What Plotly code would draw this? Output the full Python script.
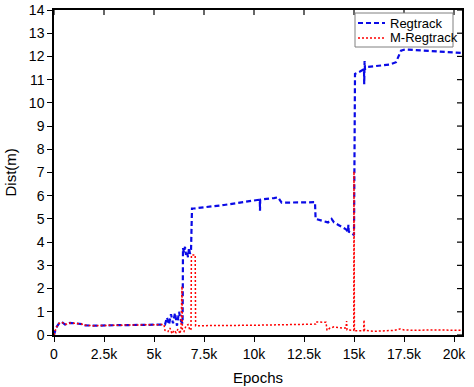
import plotly.graph_objects as go

# Regtrack (blue dashed)
reg_epochs = [0, 100, 250, 400, 550, 800, 1100, 1400, 1500, 2000, 3000, 4000, 5000, 5500,
              5550, 5650, 5750, 5850, 5950, 6050, 6150, 6250, 6350, 6430, 6450, 6500, 6550,
              6600, 6650, 6700, 6750, 6800, 6850, 6900, 7000, 8500, 10000, 10290, 10300, 10310,
              11000, 11200, 11380, 12000, 13050, 13080, 13300, 13500, 13700, 13880, 14000, 14200,
              14400, 14600, 14700, 14720, 14740, 14900, 15000, 15050, 15300, 15500, 15510,
              15530, 15550, 15700, 16200, 16800, 17100, 17350, 17550, 18500, 19500, 20400]
reg_vals = [0.0, 0.3, 0.5, 0.55, 0.45, 0.52, 0.5, 0.47, 0.42, 0.4, 0.42, 0.43, 0.45, 0.45,
            0.45, 0.75, 0.45, 0.9, 0.5, 0.95, 0.4, 1.0, 0.6, 0.5, 3.75, 3.55, 3.8, 3.45, 3.6,
            3.35, 3.75, 3.5, 3.6, 5.45, 5.45, 5.6, 5.78, 5.83, 5.35, 5.83,
            5.9, 5.93, 5.7, 5.7, 5.72, 5.0, 4.95, 4.88, 4.85, 5.0, 4.85, 4.75,
            4.65, 4.55, 4.45, 4.75, 4.45, 4.4, 4.3, 11.25, 11.35, 11.45, 10.8,
            11.8, 11.45, 11.55, 11.6, 11.65, 11.75, 12.25, 12.3, 12.25, 12.2, 12.15]

# M-Regtrack (red dotted)
mreg_epochs = [0, 100, 250, 400, 550, 800, 1100, 1400, 1500, 2000, 3000, 4000, 5000, 5500,
               5550, 5700, 5800, 5900, 6000, 6100, 6200, 6300, 6350, 6400, 6420, 6500, 6600,
               6700, 6800, 6850, 6870, 7060, 7080, 8000, 10000, 12000, 13080, 13100, 13600,
               13650, 13800, 14000, 14200, 14400, 14600, 14630, 14650, 14900, 14990, 15000,
               15020, 15300, 15480, 15500, 15530, 16000, 17000, 17300, 17500, 18000, 19000, 20400]
mreg_vals = [0.0, 0.3, 0.5, 0.55, 0.45, 0.52, 0.5, 0.47, 0.42, 0.4, 0.42, 0.43, 0.45, 0.45,
             0.2, 0.15, 0.3, 0.05, 0.2, 0.1, 0.25, 0.05, 0.3, 2.1, 0.2, 0.15, 0.4,
             0.45, 0.2, 0.25, 3.45, 3.45, 0.4, 0.4, 0.42, 0.45, 0.47, 0.56, 0.55,
             0.2, 0.3, 0.35, 0.32, 0.3, 0.3, 0.6, 0.22, 0.22, 0.2, 7.05,
             0.18, 0.18, 0.18, 0.65, 0.2, 0.16, 0.2, 0.26, 0.22, 0.2, 0.22, 0.2]

series_names = ["Regtrack", "M-Regtrack"]
series_colors = ["#0a0ae6", "#ff0000"]
series_dash = ["5px,3px", "2px,2px"]
series_width = [2.2, 1.5]

x_tick_step = 2500
y_tick_step = 1
x_range = [0, 20400]
y_range = [0, 14]

font_family = "Liberation Sans"
W, H = 474, 387
M = dict(l=54, r=12, t=10, b=52)
plot_w = W - M["l"] - M["r"]
plot_h = H - M["t"] - M["b"]
tick_len = 5

fig = go.Figure()
fig.add_trace(go.Scatter(x=reg_epochs, y=reg_vals, mode="lines", name=series_names[0],
                         line=dict(color=series_colors[0], width=series_width[0],
                                   dash=series_dash[0])))
fig.add_trace(go.Scatter(x=mreg_epochs, y=mreg_vals, mode="lines", name=series_names[1],
                         line=dict(color=series_colors[1], width=series_width[1],
                                   dash=series_dash[1])))

# inward ticks on the top and right edges, at the axis tick positions
xv = x_range[0]
while xv <= x_range[1]:
    fig.add_shape(type="line", xref="x", yref="paper", x0=xv, x1=xv,
                  y0=1, y1=1 - tick_len / plot_h, line=dict(color="black", width=1.2))
    xv += x_tick_step
yv = y_range[0]
while yv <= y_range[1]:
    fig.add_shape(type="line", xref="paper", yref="y", x0=1, x1=1 - tick_len / plot_w,
                  y0=yv, y1=yv, line=dict(color="black", width=1.2))
    yv += y_tick_step

# legend box (drawn by hand so it matches the compact original)
lg_x0, lg_x1 = (355 - M["l"]) / plot_w, (453 - M["l"]) / plot_w
lg_y1, lg_y0 = 1 - (13 - M["t"]) / plot_h, 1 - (47 - M["t"]) / plot_h
fig.add_shape(type="rect", xref="paper", yref="paper", x0=lg_x0, x1=lg_x1, y0=lg_y0, y1=lg_y1,
              line=dict(color="#808080", width=1), fillcolor="white", layer="above")
for i, name in enumerate(series_names):
    ypos = 1 - (23 + 15 * i - M["t"]) / plot_h
    fig.add_shape(type="line", xref="paper", yref="paper",
                  x0=(358 - M["l"]) / plot_w, x1=(385 - M["l"]) / plot_w, y0=ypos, y1=ypos,
                  line=dict(color=series_colors[i], width=series_width[i], dash=series_dash[i]),
                  layer="above")
    fig.add_annotation(x=(388 - M["l"]) / plot_w, y=ypos, xref="paper", yref="paper",
                       text=name, showarrow=False, xanchor="left", yanchor="middle",
                       font=dict(family=font_family, size=13, color="black"))

# axis titles
fig.add_annotation(x=0.5, y=0, xref="paper", yref="paper", yshift=-42, text="Epochs",
                   showarrow=False, xanchor="center", yanchor="middle",
                   font=dict(family=font_family, size=15, color="black"))
fig.add_annotation(x=0, y=0.5, xref="paper", yref="paper", xshift=-44, text="Dist(m)",
                   textangle=-90, showarrow=False, xanchor="center", yanchor="middle",
                   font=dict(family=font_family, size=15, color="black"))

axis_common = dict(showline=True, mirror=True, linecolor="black", linewidth=1.5,
                   ticks="outside", ticklen=tick_len, tickcolor="black", tickwidth=1.2,
                   gridcolor="white", zerolinecolor="black", zerolinewidth=1.5,
                   automargin=False, ticklabeloverflow="allow",
                   tickfont=dict(family=font_family, size=14, color="black"))

fig.update_layout(
    width=W, height=H,
    margin=M,
    plot_bgcolor="white",
    showlegend=False,
    font=dict(family=font_family, color="black"),
    xaxis=dict(range=x_range, tick0=0, dtick=x_tick_step, separatethousands=True,
               **axis_common),
    yaxis=dict(range=y_range, tick0=0, dtick=y_tick_step, **axis_common),
)

fig.write_html("out.html", config={"displayModeBar": False},
               post_script="document.body.style.margin='0';")
